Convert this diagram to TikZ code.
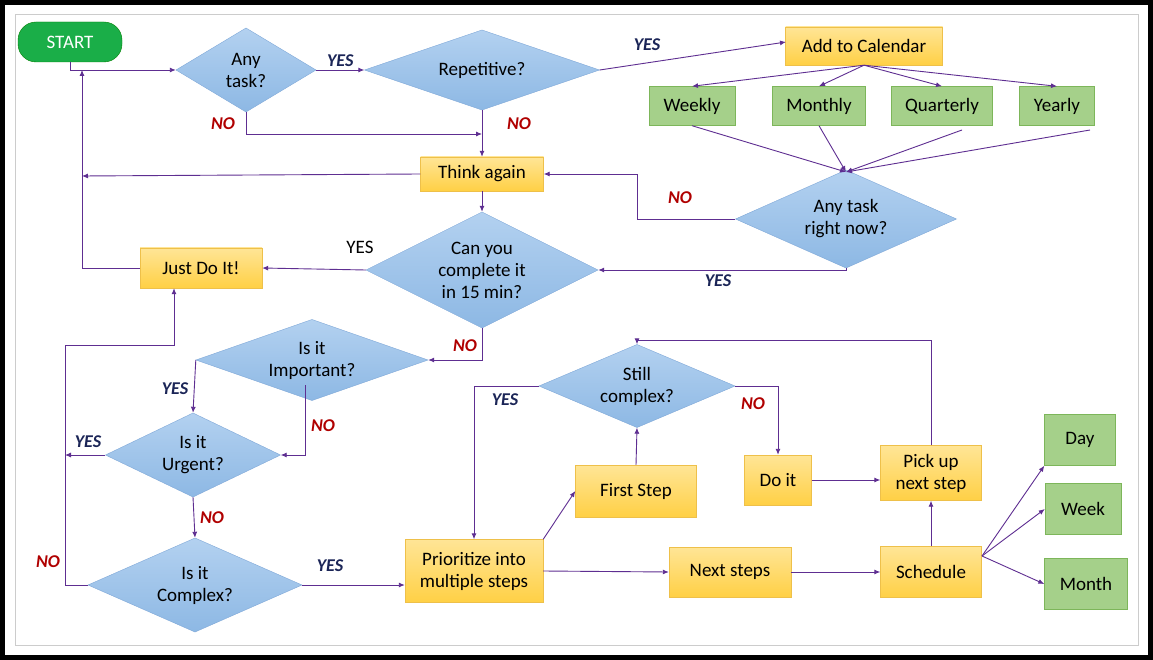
\documentclass[tikz,border=0pt]{standalone}
\usepackage{fontspec}
\setmainfont{Carlito}
\usetikzlibrary{shapes.geometric,arrows.meta}
\definecolor{arr}{HTML}{5E2E91}
\definecolor{dfill}{HTML}{8DB8E4}
\definecolor{dfill2}{HTML}{B3D1F0}
\definecolor{ddraw}{HTML}{7FA8D8}
\definecolor{yfill}{HTML}{FFD045}
\definecolor{yfill2}{HTML}{FFE596}
\definecolor{ydraw}{HTML}{EEC04A}
\definecolor{gfill}{HTML}{A5D08A}
\definecolor{gdraw}{HTML}{7DB65A}
\definecolor{yescol}{HTML}{1B2557}
\definecolor{nocol}{HTML}{B00000}
\tikzset{
 txt/.style={font=\fontsize{19}{22}\selectfont, align=center},
 ybox/.style={txt, draw=ydraw, top color=yfill2, bottom color=yfill, inner sep=0pt},
 gbox/.style={txt, draw=gdraw, fill=gfill, inner sep=0pt},
 con/.style={draw=arr, line width=0.9pt, -{Latex[length=6pt,width=5pt]}},
 yes/.style={font=\fontsize{18}{20}\selectfont\bfseries\itshape, text=yescol},
 no/.style={font=\fontsize{18}{20}\selectfont\bfseries\itshape, text=nocol},
}
\newcommand{\diam}[6]{% name, cx, cy, w, h, text
 \path[draw=ddraw, top color=dfill2, bottom color=dfill] (#2-#4/2,#3) -- (#2,#3-#5/2) -- (#2+#4/2,#3) -- (#2,#3+#5/2) -- cycle;
 \node[txt, inner sep=0pt, minimum width=#4, minimum height=#5] (#1) at (#2,#3) {#6};}
\begin{document}
\begin{tikzpicture}[x=1pt,y=-1pt]
\fill[black] (0,0) rectangle (1153,660);
\fill[white] (5,5) rectangle (1148,655);
\draw[black!20, line width=1pt] (15,15) rectangle (1138,645);
\useasboundingbox (0,0) rectangle (1153,660);
% nodes
\node[txt, text=white, rounded corners=18pt, draw=green!50!black, fill={rgb,255:red,26;green,174;blue,72}, minimum width=104pt, minimum height=40pt, inner sep=0pt] (start) at (70,42) {START};
\diam{any}{246}{70}{140}{84}{Any\\task?}
\diam{rep}{482}{70}{235}{80}{Repetitive?}
\node[ybox, minimum width=157pt, minimum height=38pt] (cal) at (864,46) {Add to Calendar};
\node[gbox, minimum width=86pt, minimum height=39pt] (wk) at (692,106) {Weekly};
\node[gbox, minimum width=93pt, minimum height=39pt] (mo) at (819,106) {Monthly};
\node[gbox, minimum width=101pt, minimum height=39pt] (qu) at (942,106) {Quarterly};
\node[gbox, minimum width=75pt, minimum height=39pt] (yr) at (1057,106) {Yearly};
\diam{now}{846}{219}{221}{98}{Any task\\right now?}
\node[ybox, minimum width=123pt, minimum height=34pt] (think) at (482,174) {Think again};
\diam{can}{482}{270}{232}{116}{Can you\\complete it\\in 15 min?}
\node[ybox, minimum width=122pt, minimum height=40pt] (just) at (201,268) {Just Do It!};
\diam{imp}{312}{360}{232}{81}{Is it\\Important?}
\diam{urg}{193}{455}{175}{84}{Is it\\Urgent?}
\diam{cpx}{195}{585}{214}{94}{Is it\\Complex?}
\node[ybox, minimum width=138pt, minimum height=63pt] (pri) at (474,571) {Prioritize into\\multiple steps};
\node[ybox, minimum width=121pt, minimum height=52pt] (first) at (636,491) {First Step};
\diam{still}{637}{386}{196}{83}{Still\\complex?}
\node[ybox, minimum width=67pt, minimum height=50pt] (doit) at (778,480) {Do it};
\node[ybox, minimum width=101pt, minimum height=55pt] (pick) at (931,473) {Pick up\\next step};
\node[ybox, minimum width=122pt, minimum height=50pt] (next) at (730,572) {Next steps};
\node[ybox, minimum width=101pt, minimum height=51pt] (sched) at (931,572) {Schedule};
\node[gbox, minimum width=71pt, minimum height=51pt] (day) at (1080,440) {Day};
\node[gbox, minimum width=76pt, minimum height=51pt] (week) at (1083,509) {Week};
\node[gbox, minimum width=83pt, minimum height=51pt] (month) at (1086,584) {Month};
\coordinate (lx) at (82,70);
\coordinate (ux) at (65,455);
\coordinate (hub) at (846,172);
\coordinate (sfan) at (982,556);
% connectors
\draw[con] (start.south) |- (any.west);
\draw[con] (just.west) -| (lx);
\draw[con] (think.west) -- (82,176);
\draw[con] (any.south) |- (482,134);
\draw[con] (any.east) -- node[yes, above] {YES} (rep.west);
\draw[con] (rep.south) -- (think.north);
\node[no] at (519,124) {NO};
\node[no] at (223,124) {NO};
\draw[con] (rep.east) -- (786,42);
\node[yes] at (647,45) {YES};
\foreach \n in {wk,mo,qu,yr} \draw[con] (cal.south) -- (\n.north);
\draw[con] (wk.south) -- (hub);
\draw[con] (mo.south) -- (hub);
\draw[con] (962,130) -- (hub);
\draw[con] (1090,130) -- (hub);
\draw[con] (now.west) -- (637,219) |- (think.east);
\node[no] at (680,198) {NO};
\draw[con] (now.south) |- (can.east);
\node[yes] at (718,281) {YES};
\draw[con] (think.south) -- (can.north);
\draw[con] (can.west) -- (just.east);
\node[txt] at (360,247) {YES};
\draw[con] (can.south) |- (imp.east);
\node[no] at (465,346) {NO};
\draw[con] (imp.west) -- (urg.north);
\node[yes] at (175,389) {YES};
\draw[con] (305,385) |- (urg.east);
\node[no] at (323,426) {NO};
\draw[con] (urg.west) -- (ux);
\node[yes] at (88,442) {YES};
\draw[con] (urg.south) -- (cpx.north);
\node[no] at (212,518) {NO};
\draw[con] (cpx.west) -- (65,585) |- (174,345) -- (just.south -| 174,0);
\node[no] at (48,562) {NO};
\draw[con] (cpx.east) -- (cpx.east -| pri.west);
\node[yes] at (330,566) {YES};
\draw[con] (still.west) -| (pri.north);
\node[yes] at (505,400) {YES};
\draw[con] (pri.north east) -- (first.west);
\draw[con] (first.north) -- (still.south);
\draw[con] (still.east) -| (doit.north);
\node[no] at (753,404) {NO};
\draw[con] (doit.east) -- (doit.east -| pick.west);
\draw[con] (pri.east) -- (next.west);
\draw[con] (next.east) -- (sched.west);
\draw[con] (sched.north) -- (pick.south);
\draw[con] (pick.north) -- (931,340) -| (still.north);
\draw[con] (sfan) -- (day.south west);
\draw[con] (sfan) -- (week.west);
\draw[con] (sfan) -- (month.west);
\end{tikzpicture}
\end{document}
